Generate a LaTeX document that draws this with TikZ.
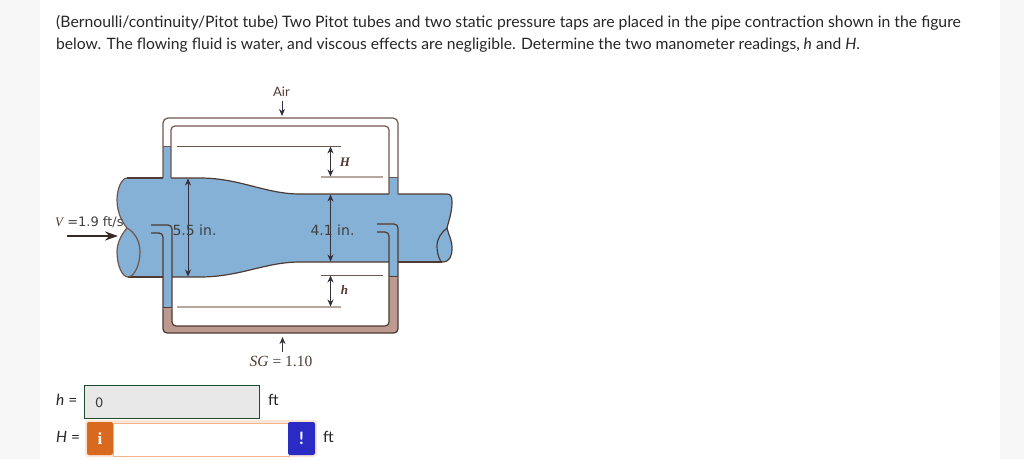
\documentclass[tikz,border=0pt]{standalone}
\usepackage{fontspec}
\setmainfont{Lato}
\newfontfamily\dejavu{DejaVu Sans}
\newfontfamily\figserif{Liberation Serif}
\usetikzlibrary{arrows.meta, positioning}
\definecolor{pipeblue}{HTML}{84B1D5}
\definecolor{gaugebrown}{HTML}{BC9A8F}
\definecolor{wallbrown}{HTML}{4E3A32}
\definecolor{tubebrown}{HTML}{6E564A}
\definecolor{levelgrey}{HTML}{B5A69E}
\definecolor{dimgrey}{HTML}{33303C}
\definecolor{sidegrey}{HTML}{F7F7F7}
\definecolor{inputgrey}{HTML}{E8E8E8}
\definecolor{inputgreen}{HTML}{1F4B2A}
\definecolor{tagorange}{HTML}{D8691E}
\definecolor{tagblue}{HTML}{2A2BC4}
\definecolor{glow}{HTML}{F3B48C}
\tikzset{
    wall/.style = {draw = wallbrown, line width = 1.2pt},
    tube/.style = {draw = tubebrown, line width = 1.2pt},
    level/.style = {draw = levelgrey, line width = 1.2pt},
    thinlevel/.style = {draw = tubebrown, line width = 0.7pt},
    dim/.style = {draw = dimgrey, line width = 0.8pt, {Stealth[length = 7pt, width = 6pt]}-{Stealth[length = 7pt, width = 6pt]}},
    lead/.style = {draw = dimgrey, line width = 0.9pt, -{Stealth[length = 7pt, width = 6pt]}},
    bodytext/.style = {anchor = base west, inner sep = 0pt, text = black!85},
    figlabel/.style = {inner sep = 0pt, text = wallbrown, font = \figserif\fontsize{15.5}{17}\selectfont},
    dimlabel/.style = {inner sep = 0pt, text = black!75, font = \dejavu\fontsize{14}{16}\selectfont},
    formtext/.style = {anchor = base west, inner sep = 0pt, text = black!85, font = \fontsize{15.5}{18}\selectfont}
}
\begin{document}
\begin{tikzpicture}[x = 1pt, y = -1pt]
    \useasboundingbox (0, 0) rectangle (1024, 459);
    \fill [sidegrey] (0, 0) rectangle (40, 459);
    \fill [sidegrey] (1000, 0) rectangle (1024, 459);

    % question text
    \node [bodytext, font = \fontsize{15.77}{18}\selectfont] (lineone) at (56, 27) {(Bernoulli/continuity/Pitot tube) Two Pitot tubes and two static pressure taps are placed in the pipe contraction shown in the figure};
    \node [bodytext, font = \fontsize{15.66}{18}\selectfont] (linetwo) at (56, 49) {below. The flowing fluid is water, and viscous effects are negligible. Determine the two manometer readings, \textit{h} and \textit{H}.};

    % manometer fluid below the pipe
    \fill [gaugebrown, rounded corners = 4pt]
        (163, 307) -- (163, 333) -- (398, 333) -- (398, 276) -- (389, 276) -- (389, 326) -- (172, 326) -- (172, 307) -- cycle;

    % pipe with taps
    \fill [pipeblue]
        (127, 178) -- (163, 178) -- (163, 146) -- (171, 146) -- (171, 178) -- (200, 178)
        .. controls (240, 178) and (265, 194) .. (300, 194)
        -- (389, 194) -- (389, 177) -- (398, 177) -- (398, 194) -- (447, 194)
        .. controls (451, 194) and (452, 197) .. (452, 202)
        .. controls (452, 212) and (449, 220) .. (447, 228)
        .. controls (449, 236) and (452, 240) .. (452, 248)
        .. controls (452, 256) and (450, 262) .. (442, 262)
        -- (300, 262)
        .. controls (265, 262) and (240, 277) .. (200, 277)
        -- (128, 277)
        .. controls (122, 277) and (117, 265) .. (117, 252)
        .. controls (117, 242) and (122, 234) .. (127, 228)
        .. controls (122, 222) and (117, 212) .. (117, 200)
        .. controls (117, 188) and (122, 178) .. (127, 178) -- cycle;
    % tubes down to the gauge fluid
    \fill [pipeblue] (163, 270) rectangle (172, 307);
    \fill [pipeblue] (389, 255) rectangle (398, 276);

    % pipe walls
    \draw [wall] (127, 178) -- (163, 178);
    \draw [wall] (171, 178) -- (200, 178)
        .. controls (240, 178) and (265, 194) .. (300, 194) -- (389, 194);
    \draw [wall] (398, 194) -- (447, 194)
        .. controls (451, 194) and (452, 197) .. (452, 202)
        .. controls (452, 212) and (449, 220) .. (447, 228);
    \draw [wall] (128, 277) -- (163, 277);
    \draw [wall] (172, 277) -- (200, 277)
        .. controls (240, 277) and (265, 262) .. (300, 262) -- (389, 262);
    \draw [wall] (398, 262) -- (442, 262);
    \draw [tube]
        (127, 178)
        .. controls (122, 178) and (117, 188) .. (117, 200)
        .. controls (117, 212) and (122, 222) .. (127, 228)
        .. controls (122, 234) and (117, 242) .. (117, 252)
        .. controls (117, 265) and (122, 277) .. (128, 277)
        .. controls (134, 277) and (140, 265) .. (140, 252)
        .. controls (140, 240) and (134, 232) .. (127, 228);
    \draw [wall]
        (447, 228)
        .. controls (442, 232) and (437, 238) .. (437, 246)
        .. controls (437, 254) and (440, 262) .. (442, 262);
    \draw [wall]
        (447, 228)
        .. controls (449, 236) and (452, 240) .. (452, 248)
        .. controls (452, 256) and (450, 262) .. (442, 262);

    % air manometer
    \draw [tube, rounded corners = 5pt] (163, 178) -- (163, 118) -- (398, 118) -- (398, 194);
    \draw [tube, rounded corners = 4pt] (171, 178) -- (171, 126) -- (389, 126) -- (389, 194);
    \draw [tube, line width = 0.7pt] (163, 146) -- (171, 146);
    \draw [tube, line width = 0.7pt] (389, 177) -- (398, 177);

    % gauge fluid manometer with Pitot tubes
    \draw [wall, rounded corners = 4pt] (151, 225) -- (172, 225) -- (172, 326) -- (389, 326) -- (389, 232) -- (377, 232);
    \draw [wall, rounded corners = 4pt] (151, 233) -- (163, 233) -- (163, 333) -- (398, 333) -- (398, 224) -- (377, 224);
    \draw [wall, line width = 0.7pt] (163, 307) -- (172, 307);
    \draw [wall, line width = 0.7pt] (389, 276) -- (398, 276);

    % levels
    \draw [thinlevel] (177, 146) -- (341, 146);
    \draw [level] (321, 177) -- (383, 177);
    \draw [thinlevel] (321, 275) -- (383, 275);
    \draw [level] (177, 307) -- (341, 307);

    % dimension arrows
    \coordinate (Htop) at (330.5, 146.5);
    \coordinate (Hbot) at (330.5, 176.5);
    \coordinate (htop) at (330.5, 275.5);
    \coordinate (hbot) at (330.5, 306.5);
    \coordinate (Dtop) at (188, 178.5);
    \coordinate (Dbot) at (188, 276.5);
    \coordinate (dtop) at (330.5, 194.5);
    \coordinate (dbot) at (330.5, 261.5);
    \draw [dim] (Htop) -- (Hbot);
    \draw [dim] (htop) -- (hbot);
    \draw [dim] (Dtop) -- (Dbot);
    \draw [dim] (dtop) -- (dbot);

    \node [figlabel, font = \figserif\bfseries\fontsize{13}{15}\selectfont] (Hlabel) at (345, 162) {\textit{H}};
    \node [figlabel, font = \figserif\bfseries\fontsize{13}{15}\selectfont] (hlabel) at (344.5, 290) {\textit{h}};
    \node [dimlabel] (bigdia) at (194.5, 230) {5.5 in.};
    \node [dimlabel] (smalldia) at (332.5, 230) {4.1 in.};

    % air and gauge fluid
    \node [inner sep = 0pt, text = wallbrown, font = \fontsize{13}{15}\selectfont] (airlabel) at (281.5, 92) {Air};
    \coordinate (airtip) at (282, 116);
    \draw [lead] (282, 101) -- (airtip);
    \node [figlabel] (sglabel) at (281, 361) {\textit{SG} = 1.10};
    \coordinate (sgtip) at (282.5, 337);
    \draw [lead] (282.5, 352) -- (sgtip);

    % inflow
    \node [anchor = base west, inner sep = 0pt, font = \dejavu\fontsize{13}{15}\selectfont, text = black!75] (vlabel) at (55, 226) {{\figserif\itshape\color{wallbrown}V} =1.9 ft/s};
    \coordinate (vstart) at (67, 236);
    \coordinate (vtip) at (118, 236);
    \draw [draw = wallbrown!70!black, line width = 2.2pt, -{Stealth[length = 13pt, width = 9pt, fill = dimgrey!70!blue]}] (vstart) -- (vtip);

    % answer form
    \node [formtext] (hform) at (56, 405) {\textit{h} =};
    \node [draw = inputgreen, fill = inputgrey, line width = 0.9pt, minimum width = 175pt, minimum height = 33pt, inner sep = 0pt, anchor = north west] (hbox) at (84, 385) {};
    \node [anchor = base west, inner sep = 0pt, text = black!75, font = \dejavu\fontsize{13}{15}\selectfont] (hvalue) at (95, 407) {0};
    \node [formtext] (hunit) at (268, 405) {ft};

    \node [formtext] (Hform) at (56, 442) {\textit{H} =};
    \fill [glow!35, rounded corners = 3pt] (85, 420) rectangle (317, 457);
    \node [draw = glow, fill = white, line width = 0.9pt, minimum width = 176pt, minimum height = 33pt, inner sep = 0pt, anchor = north west] (Hbox) at (112.5, 422.5) {};
    \fill [tagorange, rounded corners = 2pt] (87, 422) rectangle (113, 455);
    \fill [tagblue, rounded corners = 2pt] (288, 422) rectangle (315, 455);
    \node [text = white, inner sep = 0pt, font = \figserif\bfseries\fontsize{17}{18}\selectfont] (infotag) at (100, 438.5) {i};
    \node [text = white, inner sep = 0pt, font = \bfseries\fontsize{17}{18}\selectfont] (warntag) at (301.5, 438.5) {!};
    \node [formtext] (Hunit) at (323, 442) {ft};
\end{tikzpicture}
\end{document}
